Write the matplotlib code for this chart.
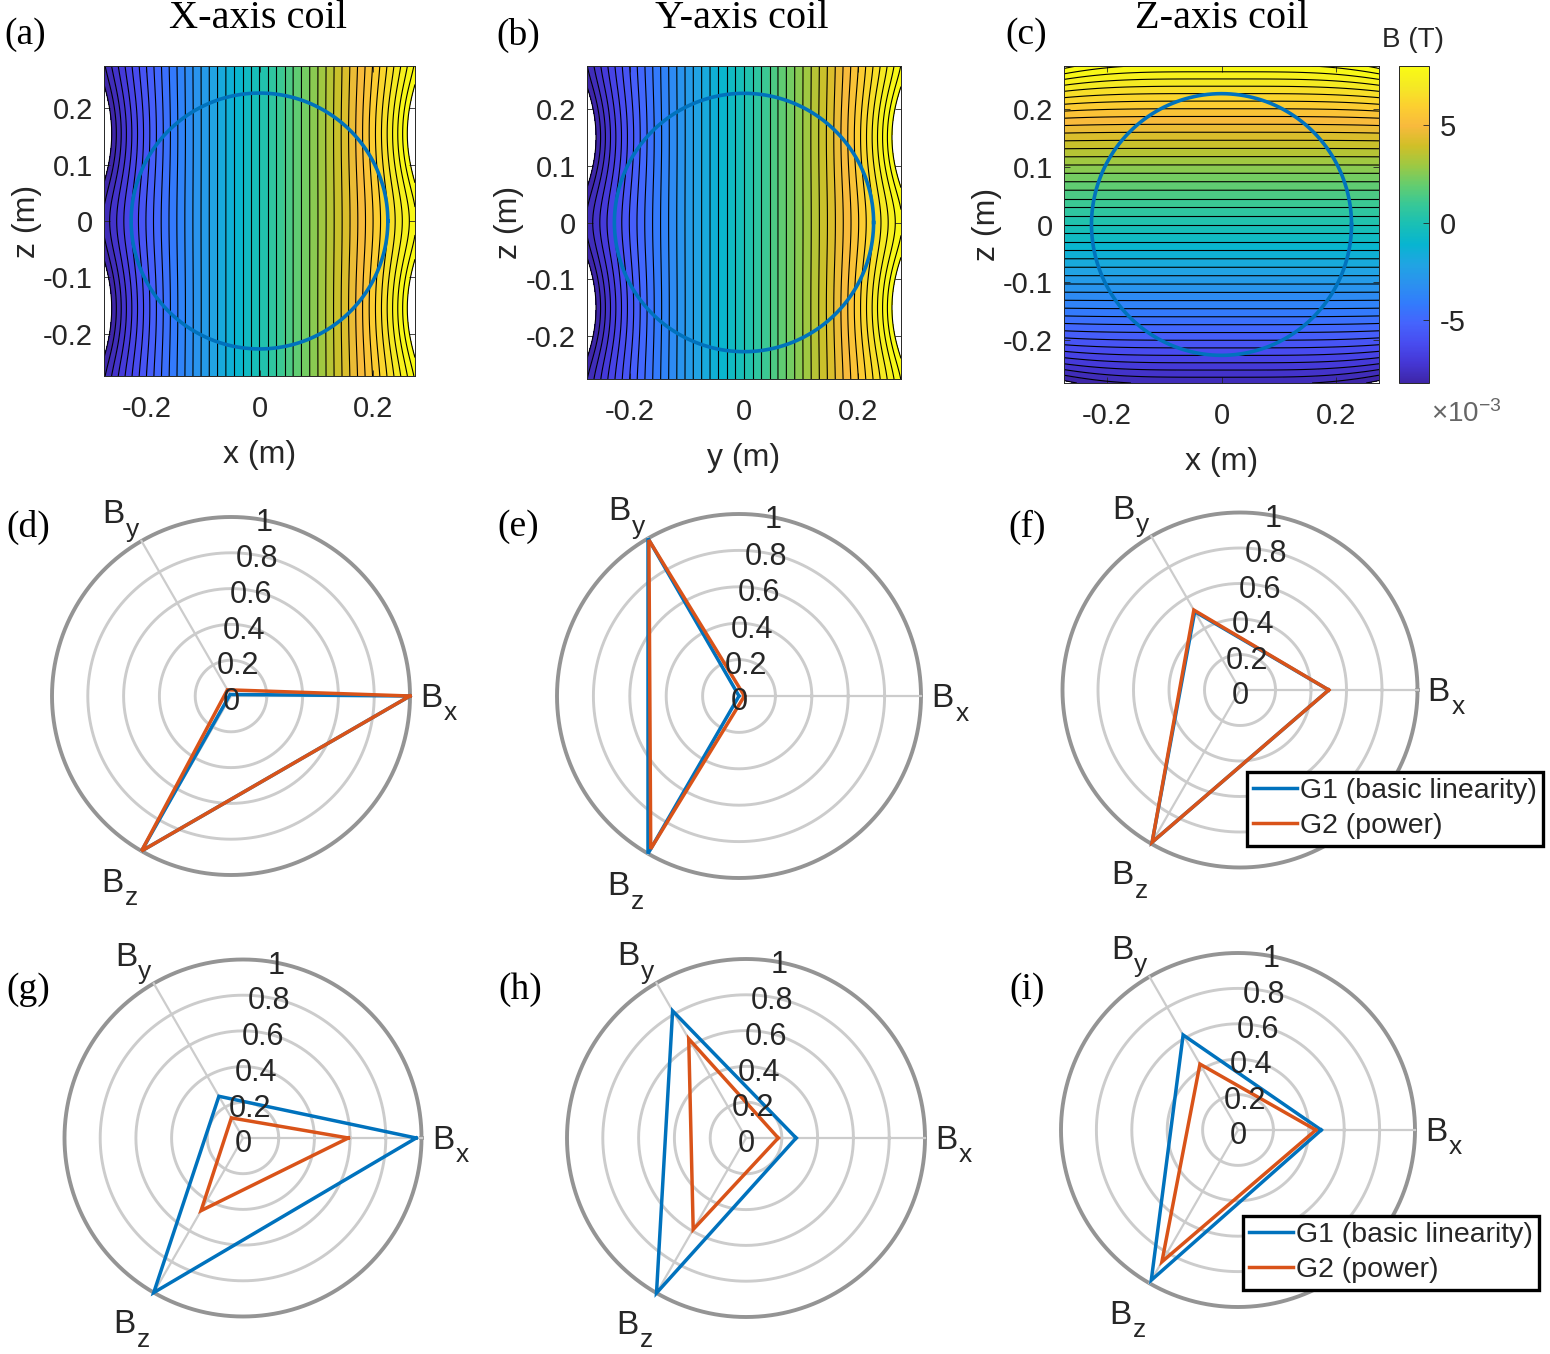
import numpy as np
import matplotlib
matplotlib.use("Agg")
import matplotlib.pyplot as plt
from matplotlib.colors import LinearSegmentedColormap, Normalize
from matplotlib.cm import ScalarMappable

plt.rcParams['font.family'] = ['Liberation Sans', 'DejaVu Sans']
plt.rcParams['axes.unicode_minus'] = False
plt.rcParams['mathtext.default'] = 'regular'

# ---------------- data ----------------
# field maps (model parameters)
span = 0.275                      # half-width of the mapped region (m)
dsv_radius = 0.227                # blue circle radius (m)
grad_T_per_m = 0.0268             # central gradient
cubic_coef = 1.0                  # cubic non-linearity
edge_amp = [0.16, 0.18, 0.09]     # edge distortion of X, Y, Z coils
edge_peak = [0.155, 0.15, 0.0]    # transverse position of max distortion
clim = [-8.2e-3, 8.0e-3]
levels = np.arange(-8.4e-3, 8.41e-3, 0.4e-3)
cbar_ticks = [-5e-3, 0.0, 5e-3]
cbar_ticklabels = ['-5', '0', '5']
top_titles = ['X-axis coil', 'Y-axis coil', 'Z-axis coil']
top_xlabels = ['x (m)', 'y (m)', 'x (m)']
top_ylabel = 'z (m)'
xticks = [-0.2, 0, 0.2]
yticks = [-0.2, -0.1, 0, 0.1, 0.2]

# radar values: order Bx, By, Bz
radar_axes_subs = ['x', 'y', 'z']
radar_angles_deg = [0, 120, 240]
radar_rticks = [0, 0.2, 0.4, 0.6, 0.8, 1]
series_names = ['G1 (basic linearity)', 'G2 (power)']
G1_d = [1.00, 0.01, 1.00]; G2_d = [1.00, 0.04, 1.00]
G1_e = [0.00, 1.00, 1.00]; G2_e = [0.03, 0.99, 0.97]
G1_f = [0.50, 0.51, 0.99]; G2_f = [0.50, 0.52, 0.99]
G1_g = [0.97, 0.27, 1.00]; G2_g = [0.59, 0.13, 0.47]
G1_h = [0.28, 0.82, 1.00]; G2_h = [0.18, 0.64, 0.59]
G1_i = [0.47, 0.62, 0.98]; G2_i = [0.44, 0.43, 0.86]

# ---------------- colormap (parula) ----------------
parula_pts = [
    (0.2422, 0.1504, 0.6603), (0.2706, 0.2147, 0.8364), (0.2813, 0.3006, 0.9414),
    (0.2699, 0.3892, 0.9906), (0.1963, 0.4847, 0.9892), (0.1687, 0.5703, 0.9359),
    (0.1248, 0.6459, 0.8883), (0.0297, 0.7082, 0.8163), (0.0964, 0.7500, 0.7120),
    (0.2161, 0.7843, 0.5923), (0.3909, 0.8029, 0.4354), (0.6174, 0.7876, 0.2612),
    (0.8203, 0.7498, 0.1535), (0.9728, 0.7298, 0.2394), (0.9892, 0.8136, 0.1885),
    (0.9597, 0.9135, 0.1423), (0.9769, 0.9839, 0.0805)]
parula = LinearSegmentedColormap.from_list('parula', parula_pts, N=256)

W, H = 1550, 1354
fig = plt.figure(figsize=(W / 100, H / 100), dpi=100)


def ax_px(l, t, r, b):
    return fig.add_axes([l / W, 1 - b / H, (r - l) / W, (b - t) / H])


def ftxt(x, y, s, **kw):
    fig.text(x / W, 1 - y / H, s, **kw)


axis_col = (0.15, 0.15, 0.15)
serif = ['Liberation Serif', 'DejaVu Serif']

u = np.linspace(-span, span, 401)
U, V = np.meshgrid(u, u)


def field(main, trans, k):
    base = grad_T_per_m * (main + cubic_coef * main ** 3)
    if edge_peak[k] > 0:
        prof = np.sin(np.pi * np.abs(trans) / (2 * edge_peak[k])) ** 2
    else:
        prof = (trans / span) ** 4
    return base + grad_T_per_m * edge_amp[k] * span * (main / span) ** 5 * prof


fields = [field(U, V, 0), field(U, V, 1), field(V, U, 2)]
top_boxes = [(104, 66, 415, 376), (587, 66, 901, 379), (1064, 66, 1379, 383)]
norm = Normalize(vmin=clim[0], vmax=clim[1])
th = np.linspace(0, 2 * np.pi, 361)

for k in range(3):
    ax = ax_px(*top_boxes[k])
    ax.contourf(U, V, fields[k], levels=levels, cmap=parula, norm=norm)
    ax.contour(U, V, fields[k], levels=levels, colors='k', linewidths=0.8,
               linestyles='solid')
    ax.plot(dsv_radius * np.cos(th), dsv_radius * np.sin(th), color='#0072BD', lw=2.6)
    ax.set_xlim(-span, span)
    ax.set_ylim(-span, span)
    ax.set_xticks(xticks)
    ax.set_xticklabels(['-0.2', '0', '0.2'])
    ax.set_yticks(yticks)
    ax.set_yticklabels(['-0.2', '-0.1', '0', '0.1', '0.2'])
    ax.tick_params(direction='in', length=4, width=0.6, colors=axis_col,
                   labelcolor=axis_col, labelsize=21, top=True, right=True)
    ax.tick_params(axis='x', pad=14)
    ax.tick_params(axis='y', pad=8)
    for s in ax.spines.values():
        s.set_color(axis_col)
        s.set_linewidth(0.7)
    ax.set_xlabel(top_xlabels[k], fontsize=23, color=axis_col, labelpad=12)
    ax.set_ylabel(top_ylabel, fontsize=23, color=axis_col, labelpad=1)

cax = ax_px(1399, 66, 1429, 383)
cb = fig.colorbar(ScalarMappable(norm=norm, cmap=parula), cax=cax)
cb.set_ticks(cbar_ticks)
cb.set_ticklabels(cbar_ticklabels)
cax.tick_params(direction='in', length=4, width=0.6, colors=axis_col,
                labelcolor=axis_col, labelsize=21, pad=8)
cb.outline.set_edgecolor(axis_col)
cb.outline.set_linewidth(0.7)
ftxt(1413, 40, 'B (T)', fontsize=20, color=axis_col, ha='center', va='center')
ftxt(1466, 414, r'$\times$10$^{-3}$', fontsize=20, color=(0.4, 0.4, 0.4), ha='center', va='center')

top_title_x = [258, 742, 1222]
for k in range(3):
    ftxt(top_title_x[k], 18, top_titles[k], fontsize=29, family=serif, ha='center', va='center')

panel_pos = [(25, 35, '(a)'), (518, 35, '(b)'), (1026, 35, '(c)'),
             (28, 527, '(d)'), (518, 527, '(e)'), (1027, 527, '(f)'),
             (28, 990, '(g)'), (520, 990, '(h)'), (1027, 990, '(i)')]
for x, y, s in panel_pos:
    ftxt(x, y, s, fontsize=27, family=serif, ha='center', va='center')

# ---------------- radar charts ----------------
BOX = 520.0
radar_centers = [(231, 696), (739, 696), (1240, 690), (243, 1138), (746, 1138), (1238, 1130)]
radar_radius_px = [179, 182, 177.5, 178.5, 179, 177]
radar_data = [(G1_d, G2_d), (G1_e, G2_e), (G1_f, G2_f), (G1_g, G2_g), (G1_h, G2_h), (G1_i, G2_i)]
ang = np.deg2rad(radar_angles_deg)
ring_col = (0.80, 0.80, 0.80)
outer_col = (0.58, 0.58, 0.58)
# "B" centre x and baseline y for the three axis labels (axis units)
lab_B = [(1.12, -0.061), (-0.656, 0.966), (-0.662, -1.095)]

for idx, (cx, cy) in enumerate(radar_centers):
    lim = BOX / 2 / radar_radius_px[idx]
    ax = ax_px(cx - BOX / 2, cy - BOX / 2, cx + BOX / 2, cy + BOX / 2)
    ax.set_xlim(-lim, lim)
    ax.set_ylim(-lim, lim)
    ax.set_aspect('equal')
    ax.axis('off')
    ax.patch.set_alpha(0)
    for r in radar_rticks[1:-1]:
        ax.plot(r * np.cos(th), r * np.sin(th), color=ring_col, lw=2.1, zorder=1)
    ax.plot(np.cos(th), np.sin(th), color=outer_col, lw=2.8, zorder=1)
    for a in ang:
        ax.plot([0, np.cos(a)], [0, np.sin(a)], color=ring_col, lw=1.6, zorder=1)
    g1, g2 = radar_data[idx]
    h = []
    for vals, col in ((g1, '#0072BD'), (g2, '#D95319')):
        v = np.array(vals + vals[:1])
        a = np.concatenate([ang, ang[:1]])
        ln, = ax.plot(v * np.cos(a), v * np.sin(a), color=col, lw=2.5, zorder=3,
                      solid_joinstyle='miter')
        h.append(ln)
    for r in radar_rticks:
        ax.text(0.185 * r, r - 0.035, f'{r:g}', fontsize=22, color=axis_col,
                ha='center', va='center', zorder=4)
    for (lx, ly), sub in zip(lab_B, radar_axes_subs):
        ax.text(lx, ly, 'B', fontsize=24, color=axis_col, ha='center', va='baseline')
        ax.text(lx + 0.07, ly - 0.075, sub, fontsize=19, color=axis_col,
                ha='left', va='baseline')
    if idx in (2, 5):
        top = 772 if idx == 2 else 1216
        leg = fig.legend(h, series_names, loc='upper left',
                         bbox_to_anchor=((1247 if idx == 2 else 1243) / W, 1 - top / H),
                         bbox_transform=fig.transFigure, fontsize=20.5, frameon=True,
                         fancybox=False, framealpha=1, edgecolor='k',
                         handlelength=1.55, handletextpad=0.1, borderpad=0.22,
                         labelspacing=0.32, borderaxespad=0)
        leg.get_frame().set_linewidth(2.4)
        for t in leg.get_texts():
            t.set_color(axis_col)

fig.savefig('out.png', dpi=100)
